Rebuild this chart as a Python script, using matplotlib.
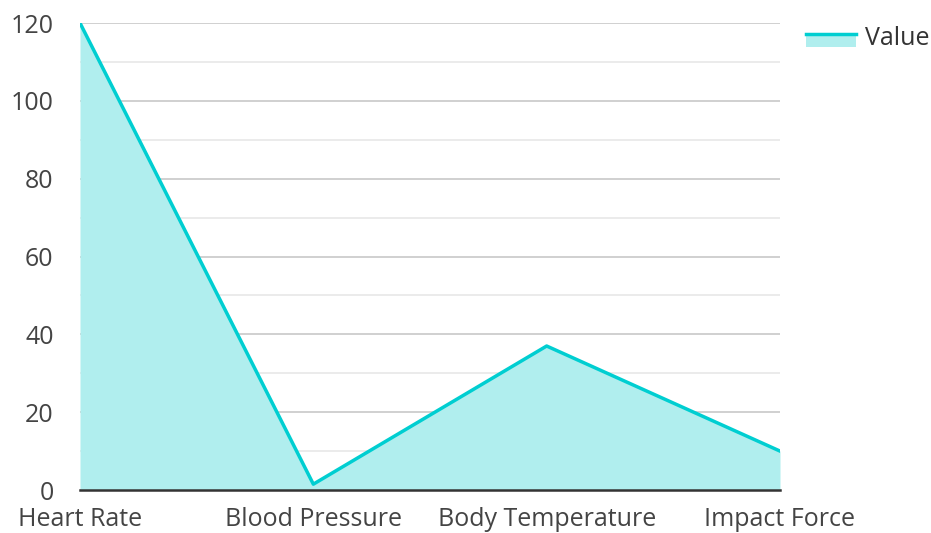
import matplotlib
matplotlib.use("Agg")
import matplotlib.pyplot as plt
from matplotlib.lines import Line2D
from matplotlib.patches import Rectangle
from matplotlib.legend_handler import HandlerBase

categories = ["Heart Rate", "Blood Pressure", "Body Temperature", "Impact Force"]
values = [120, 1.5, 37, 10]
y_ticks = [0, 20, 40, 60, 80, 100, 120]
y_minor = [10, 30, 50, 70, 90, 110]

plt.rcParams['font.family'] = ['Open Sans', 'DejaVu Sans']

line_c = "#00CED1"
fill_c = "#B0EEEE"

fig = plt.figure(figsize=(9.31, 5.33), dpi=100)
ax = fig.add_axes([80/931, 43/533, 700/931, 467/533])

x = list(range(len(categories)))
ax.fill_between(x, values, 0, color=fill_c, linewidth=0, zorder=2)
ax.plot(x, values, color=line_c, linewidth=2.5, zorder=3)

ax.set_xlim(0, len(categories) - 1)
ax.set_ylim(0, 120)
ax.set_yticks(y_ticks)
ax.set_yticks(y_minor, minor=True)
ax.grid(True, which='major', axis='y', color='#c8c8c8', linewidth=1.2, zorder=1)
ax.grid(True, which='minor', axis='y', color='#e8e8e8', linewidth=1.2, zorder=1)
ax.set_axisbelow(True)
ax.set_xticks(x)
ax.set_xticklabels(categories)
ax.tick_params(axis='both', which='both', length=0, labelsize=18, colors='#444444')
ax.tick_params(axis='x', pad=12)
ax.tick_params(axis='y', pad=19)
for s in ['top', 'right', 'left']:
    ax.spines[s].set_visible(False)
ax.spines['bottom'].set_color('#333333')
ax.spines['bottom'].set_linewidth(1.8)
ax.spines['bottom'].set_zorder(4)


class AreaLineHandler(HandlerBase):
    def create_artists(self, legend, orig_handle, xdescent, ydescent,
                       width, height, fontsize, trans):
        yc = -ydescent + height / 2.0 + 0.1 * fontsize
        rh = 0.52 * fontsize
        r = Rectangle((-xdescent, yc - rh), width, rh,
                      facecolor=fill_c, edgecolor='none', transform=trans)
        ln = Line2D([-xdescent, -xdescent + width], [yc, yc],
                    color=line_c, linewidth=2.5, transform=trans)
        return [r, ln]


proxy = object()
leg = fig.legend([proxy], ["Value"], loc='upper left',
                 bbox_to_anchor=(806/931, 1 - 26/533),
                 frameon=False, fontsize=18, borderpad=0, borderaxespad=0,
                 handlelength=2.0, handleheight=0.7, handletextpad=0.35,
                 handler_map={object: AreaLineHandler()})
for t in leg.get_texts():
    t.set_color('#333333')

fig.savefig("out.png", dpi=100)
